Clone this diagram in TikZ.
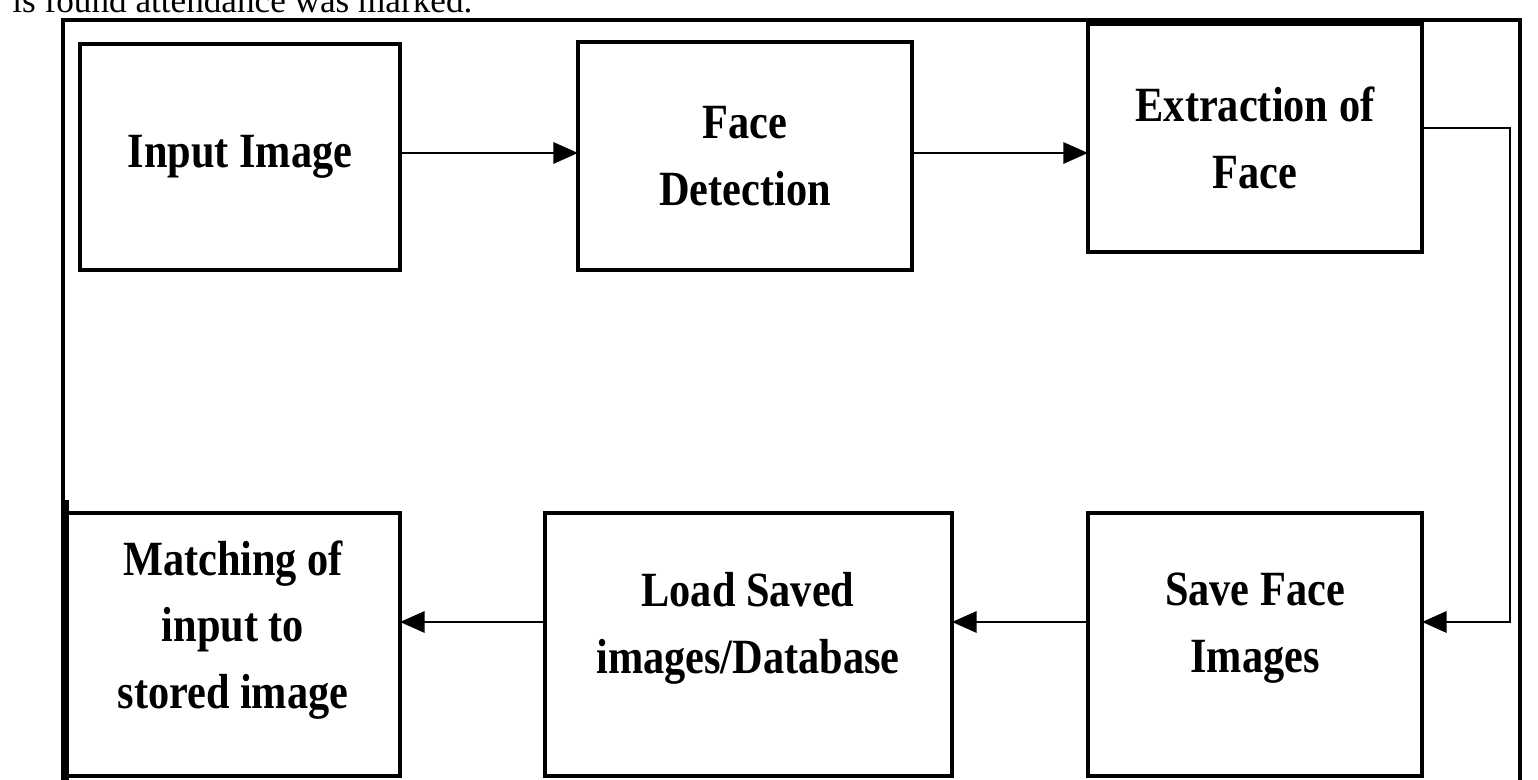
\documentclass[tikz,border=0pt]{standalone}
\usepackage{fontspec}
\setmainfont{Liberation Serif}
\newfontfamily\boxfont[FakeStretch=0.86]{Liberation Serif}
\usetikzlibrary{arrows.meta}
\begin{document}
\begin{tikzpicture}[x=0.01cm,y=-0.01cm,
  blk/.style={draw,line width=1.1pt},
  lbl/.style={font=\boxfont\bfseries\fontsize{14}{19}\selectfont,align=center},
  arr/.style={line width=0.8pt,-{Triangle[length=7pt,width=6pt]}}]
\useasboundingbox (0,0) rectangle (1538,780);
\clip (0,0) rectangle (1538,780);
\node[anchor=west,font=\fontsize{10}{12}\selectfont] (top) at (0,0) {is found attendance was marked.};
\draw[line width=1.1pt] (63,800) -- (63,20) -- (1520,20) -- (1520,800);
\draw[line width=1.1pt] (67,500) -- (67,800);
\draw[blk] (80,44) rectangle (400,270); \node[lbl] (a) at (240,157) {Input Image};
\draw[blk] (578,42) rectangle (912,270); \node[lbl] (b) at (745,156) {Face\\Detection};
\draw[blk] (1088,24) rectangle (1422,252); \node[lbl] (c) at (1255,138) {Extraction of\\Face};
\draw[blk] (66,513) rectangle (400,776); \node[lbl] (d) at (233,630) {Matching of\\input to\\stored image};
\draw[blk] (545,513) rectangle (952,776); \node[lbl] (e) at (748,628) {Load Saved\\images/Database};
\draw[blk] (1088,513) rectangle (1422,776); \node[lbl] (f) at (1255,628) {Save Face\\Images};
\coordinate (a1) at (400,153); \coordinate (b0) at (578,153);
\coordinate (b1) at (912,153); \coordinate (c0) at (1088,153);
\draw[arr] (a1) -- (b0);
\draw[arr] (b1) -- (c0);
\coordinate (c1) at (1422,128); \coordinate (f1) at (1422,622);
\draw[arr] (c1) -- (1510,128) -- (1510,622) -- (f1);
\draw[arr] (1088,622) -- (952,622);
\draw[arr] (545,622) -- (400,622);
\end{tikzpicture}
\end{document}
